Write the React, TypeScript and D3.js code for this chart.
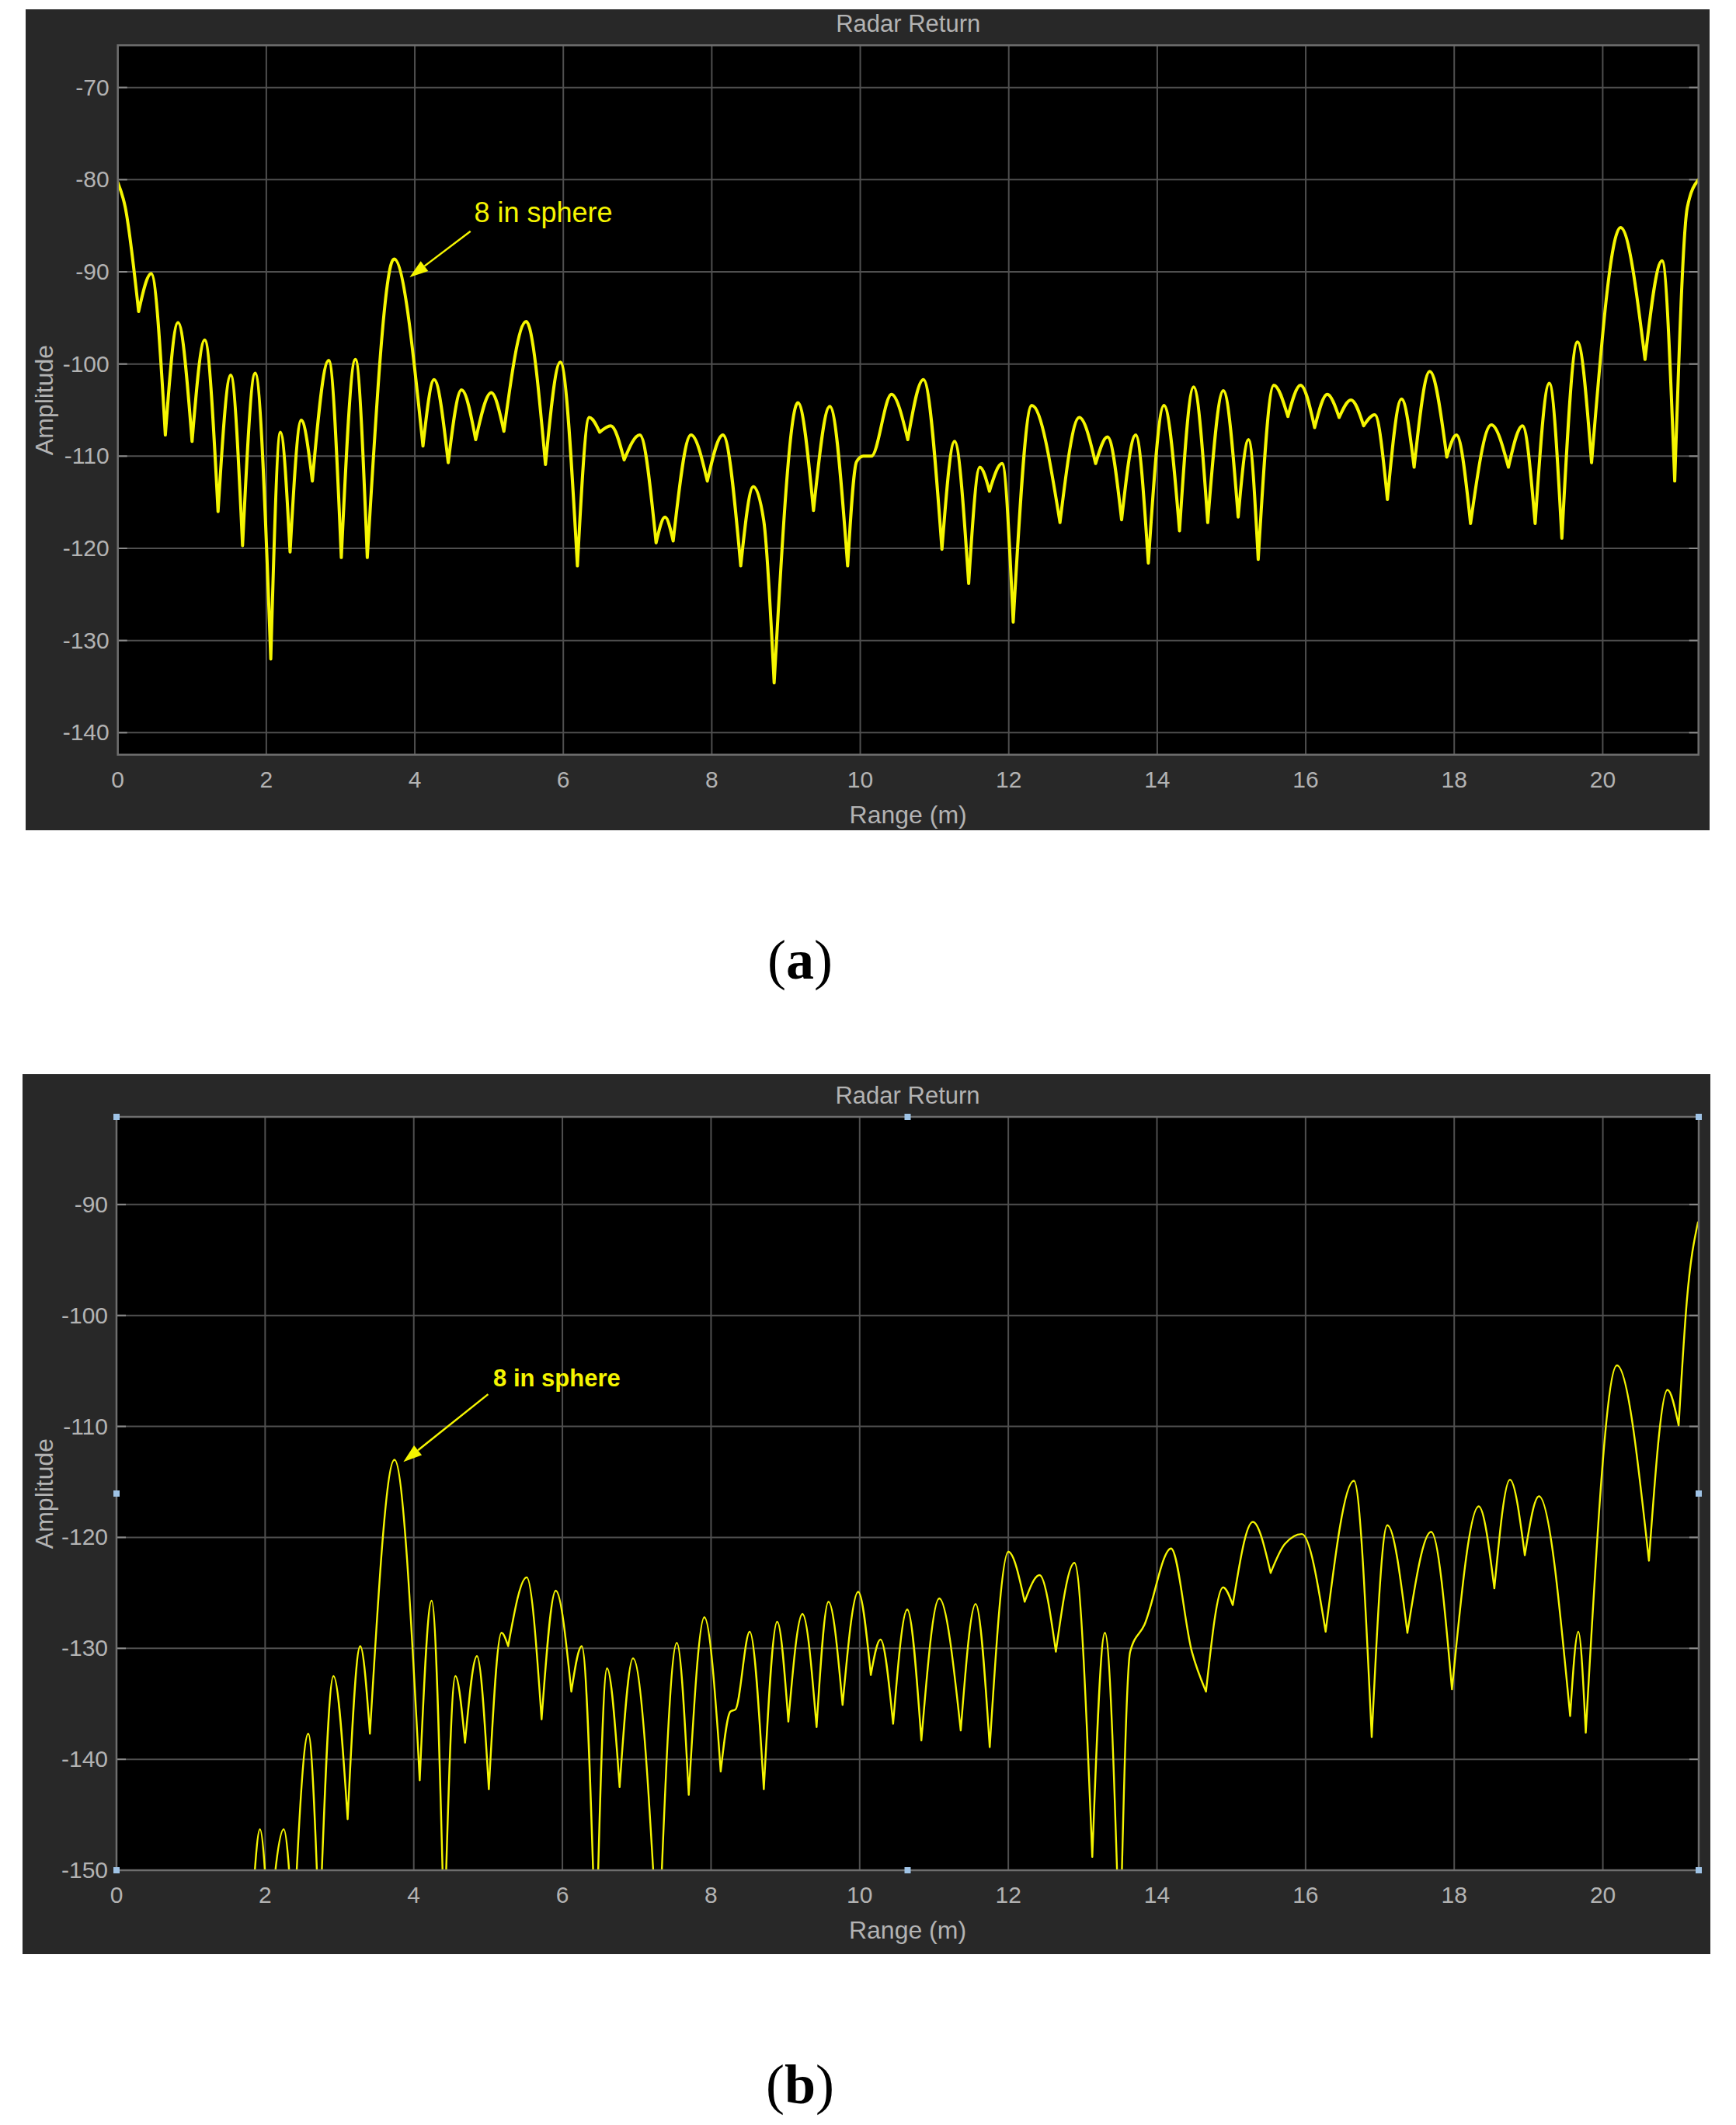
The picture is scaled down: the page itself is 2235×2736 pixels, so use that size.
import React, { useEffect, useRef } from 'react';
import * as d3 from 'd3';

// Range axis ticks (m), shared by both panels
const rangeTicks = [0, 2, 4, 6, 8, 10, 12, 14, 16, 18, 20];
const ampTicksA = [-70, -80, -90, -100, -110, -120, -130, -140];
const ampTicksB = [-90, -100, -110, -120, -130, -140, -150];

// Panel (a): [range m, amplitude dB] read at peaks / nulls
const returnA: [number, number][] = [
  [0, -80.3], [0.1, -83], [0.28, -94.3], [0.45, -90.2], [0.64, -107.7], [0.81, -95.5], [1.0, -108.4],
  [1.17, -97.4], [1.35, -116.0], [1.52, -101.2], [1.68, -119.7], [1.85, -101.0], [2.06, -132.0],
  [2.19, -107.4], [2.32, -120.4], [2.47, -106.1], [2.62, -112.7], [2.84, -99.6], [3.01, -121.0],
  [3.2, -99.5], [3.36, -121.0], [3.72, -88.6], [4.11, -108.9], [4.26, -101.7], [4.45, -110.7],
  [4.63, -102.8], [4.82, -108.2], [5.03, -103.1], [5.2, -107.3], [5.5, -95.4], [5.76, -110.9],
  [5.96, -99.8], [6.19, -121.9], [6.35, -105.8], [6.49, -107.4], [6.64, -106.7], [6.82, -110.4],
  [7.03, -107.7], [7.25, -119.4], [7.37, -116.6], [7.48, -119.2], [7.72, -107.7], [7.94, -112.7],
  [8.15, -107.7], [8.39, -121.9], [8.56, -113.3], [8.7, -117], [8.84, -134.6], [9.16, -104.2],
  [9.37, -115.9], [9.59, -104.6], [9.83, -121.9], [9.95, -110.6], [10.04, -110.0], [10.15, -110.0],
  [10.42, -103.3], [10.64, -108.2], [10.85, -101.7], [11.1, -120.1], [11.27, -108.4], [11.46, -123.8],
  [11.61, -111.2], [11.74, -113.8], [11.91, -110.8], [12.06, -128.0], [12.31, -104.5], [12.69, -117.2],
  [12.95, -105.8], [13.17, -110.8], [13.33, -107.9], [13.52, -116.9], [13.71, -107.7], [13.88, -121.6],
  [14.09, -104.5], [14.3, -118.1], [14.49, -102.5], [14.68, -117.2], [14.89, -102.9], [15.09, -116.6],
  [15.23, -108.2], [15.36, -121.2], [15.57, -102.3], [15.76, -105.7], [15.93, -102.3], [16.12, -106.9],
  [16.29, -103.3], [16.45, -105.8], [16.61, -103.9], [16.78, -106.7], [16.93, -105.5], [17.1, -114.7],
  [17.29, -103.8], [17.46, -111.2], [17.67, -100.8], [17.9, -110.1], [18.03, -107.7], [18.22, -117.3],
  [18.5, -106.6], [18.73, -111.2], [18.92, -106.7], [19.09, -117.3], [19.28, -102.1], [19.45, -118.9],
  [19.66, -97.6], [19.85, -110.7], [20.24, -85.2], [20.57, -99.5], [20.8, -88.8], [20.97, -112.7],
  [21.14, -83.0], [21.29, -80.0],
];

// Panel (b): [range m, amplitude dB]; values under -150 run off the bottom
const returnB: [number, number][] = [
  [1.84, -152], [1.93, -146.3], [2.05, -156], [2.25, -146.3], [2.38, -156], [2.58, -137.7], [2.73, -156],
  [2.92, -132.5], [3.11, -145.4], [3.28, -129.8], [3.41, -137.7], [3.74, -113.0], [4.08, -141.9],
  [4.24, -125.7], [4.41, -156], [4.56, -132.5], [4.69, -138.5], [4.85, -130.7], [5.01, -142.7],
  [5.18, -128.6], [5.27, -129.8], [5.52, -123.6], [5.72, -136.4], [5.91, -124.8], [6.12, -133.9],
  [6.26, -129.8], [6.45, -158], [6.6, -131.8], [6.77, -142.5], [6.95, -130.9], [7.29, -158],
  [7.54, -129.5], [7.7, -143.2], [7.91, -127.2], [8.13, -141.1], [8.26, -135.7], [8.33, -135.5],
  [8.52, -128.5], [8.71, -142.7], [8.89, -127.6], [9.04, -136.6], [9.23, -126.9], [9.42, -137.1],
  [9.58, -125.8], [9.77, -135.1], [9.98, -124.9], [10.15, -132.4], [10.28, -129.2], [10.45, -136.8],
  [10.64, -126.5], [10.83, -138.3], [11.07, -125.5], [11.36, -137.4], [11.56, -126.0], [11.75, -138.9],
  [12.0, -121.3], [12.22, -125.8], [12.42, -123.4], [12.64, -130.3], [12.89, -122.3], [13.13, -148.8],
  [13.3, -128.6], [13.5, -158], [13.64, -130.3], [13.83, -127.9], [14.19, -121.0], [14.47, -130.3],
  [14.66, -133.9], [14.89, -124.5], [15.02, -126.1], [15.29, -118.6], [15.53, -123.2], [15.72, -120.6],
  [15.95, -119.7], [16.27, -128.5], [16.65, -114.9], [16.89, -138.0], [17.1, -118.9], [17.37, -128.6],
  [17.69, -119.5], [17.97, -133.7], [18.33, -117.2], [18.54, -124.6], [18.75, -114.8], [18.95, -121.6],
  [19.14, -116.3], [19.56, -136.1], [19.67, -128.5], [19.77, -137.6], [20.19, -104.5], [20.62, -122.1],
  [20.87, -106.7], [21.02, -109.9], [21.13, -98.7], [21.28, -91.6],
];

const label = '8 in sphere';

interface Panel {
  data: [number, number][];
  yTicks: number[];
  yDomain: [number, number];
  box: { x: number; y: number; w: number; h: number };
  plot: { l: number; r: number; t: number; b: number };
  note: { tx: number; ty: number; from: [number, number]; to: [number, number]; bold: boolean; size: number };
  stroke: number;
  caption: string;
  captionY: number;
  handles: boolean;
}

const panels: Panel[] = [
  {
    data: returnA,
    yTicks: ampTicksA,
    yDomain: [-142.39, -65.42],
    box: { x: 33, y: 12, w: 2168, h: 1057 },
    plot: { l: 151.7, r: 2186.7, t: 58.3, b: 971.7 },
    note: { tx: 4.8, ty: -84.6, from: [4.75, -85.6], to: [3.93, -90.6], bold: false, size: 36 },
    stroke: 4,
    caption: 'a',
    captionY: 1260,
    handles: false,
  },
  {
    data: returnB,
    yTicks: ampTicksB,
    yDomain: [-150, -82.1],
    box: { x: 29, y: 1383, w: 2173, h: 1133 },
    plot: { l: 150, r: 2187, t: 1438, b: 2408 },
    note: { tx: 5.07, ty: -106.4, from: [5.0, -107.1], to: [3.86, -113.2], bold: true, size: 31 },
    stroke: 2.4,
    caption: 'b',
    captionY: 2708,
    handles: true,
  },
];

// split the trace at its nulls so each lobe is a smooth arch with a sharp null
function lobes(pts: [number, number][]) {
  const cuts = [0];
  for (let i = 1; i < pts.length - 1; i++) {
    if (pts[i][1] < pts[i - 1][1] && pts[i][1] < pts[i + 1][1]) cuts.push(i);
  }
  cuts.push(pts.length - 1);
  const segs: [number, number][][] = [];
  for (let k = 0; k < cuts.length - 1; k++) segs.push(pts.slice(cuts[k], cuts[k + 1] + 1));
  return segs;
}

const App: React.FC = () => {
  const svgRef = useRef<SVGSVGElement>(null);

  useEffect(() => {
    if (!svgRef.current) return;
    document.body.style.margin = '0';
    const svg = d3.select(svgRef.current);
    svg.selectAll('*').remove();

    const font = '"Liberation Sans", Arial, sans-serif';
    const textCol = '#b3b3b3';
    const yellow = '#f5f500';

    panels.forEach((p, pi) => {
      const x = d3.scaleLinear().domain([0, 21.29]).range([p.plot.l, p.plot.r]);
      const y = d3.scaleLinear().domain(p.yDomain).range([p.plot.b, p.plot.t]);
      const g = svg.append('g');

      g.append('rect')
        .attr('x', p.box.x).attr('y', p.box.y)
        .attr('width', p.box.w).attr('height', p.box.h)
        .attr('fill', '#282828');

      g.append('rect')
        .attr('x', p.plot.l).attr('y', p.plot.t)
        .attr('width', p.plot.r - p.plot.l).attr('height', p.plot.b - p.plot.t)
        .attr('fill', '#000');

      // grid
      g.selectAll('line.gx')
        .data(rangeTicks.filter(d => d > 0))
        .enter().append('line')
        .attr('x1', d => x(d)).attr('x2', d => x(d))
        .attr('y1', p.plot.t).attr('y2', p.plot.b)
        .attr('stroke', '#4f4f4f').attr('stroke-width', 2);
      g.selectAll('line.gy')
        .data(p.yTicks.filter(d => d > p.yDomain[0]))
        .enter().append('line')
        .attr('x1', p.plot.l).attr('x2', p.plot.r)
        .attr('y1', d => y(d)).attr('y2', d => y(d))
        .attr('stroke', '#4f4f4f').attr('stroke-width', 2);

      // tick marks
      g.selectAll('line.ty')
        .data(p.yTicks)
        .enter().append('line')
        .attr('x1', p.plot.l).attr('x2', p.plot.l + 12)
        .attr('y1', d => y(d)).attr('y2', d => y(d))
        .attr('stroke', '#8a8a8a').attr('stroke-width', 2);
      g.selectAll('line.ty2')
        .data(p.yTicks)
        .enter().append('line')
        .attr('x1', p.plot.r - 12).attr('x2', p.plot.r)
        .attr('y1', d => y(d)).attr('y2', d => y(d))
        .attr('stroke', '#8a8a8a').attr('stroke-width', 2);

      // trace
      const clipId = `clip${pi}`;
      g.append('clipPath').attr('id', clipId)
        .append('rect')
        .attr('x', p.plot.l).attr('y', p.plot.t)
        .attr('width', p.plot.r - p.plot.l).attr('height', p.plot.b - p.plot.t);

      const line = d3.line<[number, number]>()
        .x(d => x(d[0]))
        .y(d => y(d[1]))
        .curve(d3.curveMonotoneX);

      g.append('path')
        .attr('clip-path', `url(#${clipId})`)
        .attr('d', lobes(p.data).map(s => line(s)).join(''))
        .attr('fill', 'none')
        .attr('stroke', yellow)
        .attr('stroke-width', p.stroke)
        .attr('stroke-linejoin', 'round')
        .attr('stroke-linecap', 'round');

      // frame
      g.append('rect')
        .attr('x', p.plot.l).attr('y', p.plot.t)
        .attr('width', p.plot.r - p.plot.l).attr('height', p.plot.b - p.plot.t)
        .attr('fill', 'none')
        .attr('stroke', '#6e6e6e').attr('stroke-width', 2.5);

      if (p.handles) {
        const hx = [p.plot.l, (p.plot.l + p.plot.r) / 2, p.plot.r];
        const hy = [p.plot.t, (p.plot.t + p.plot.b) / 2, p.plot.b];
        const pts: [number, number][] = [];
        hx.forEach((a, i) => hy.forEach((b, j) => { if (!(i === 1 && j === 1)) pts.push([a, b]); }));
        g.selectAll('rect.h')
          .data(pts)
          .enter().append('rect')
          .attr('x', d => d[0] - 4).attr('y', d => d[1] - 4)
          .attr('width', 8).attr('height', 8)
          .attr('fill', '#9fc3e6');
      }

      // tick labels
      g.selectAll('text.xt')
        .data(rangeTicks)
        .enter().append('text')
        .attr('x', d => x(d))
        .attr('y', p.plot.b + 42)
        .attr('text-anchor', 'middle')
        .attr('font-family', font).attr('font-size', 30)
        .attr('fill', textCol)
        .text(d => String(d));
      g.selectAll('text.yt')
        .data(p.yTicks)
        .enter().append('text')
        .attr('x', p.plot.l - 11)
        .attr('y', d => y(d) + 10)
        .attr('text-anchor', 'end')
        .attr('font-family', font).attr('font-size', 30)
        .attr('fill', textCol)
        .text(d => String(d));

      g.append('text')
        .attr('x', (p.plot.l + p.plot.r) / 2)
        .attr('y', p.plot.t - 17)
        .attr('text-anchor', 'middle')
        .attr('font-family', font).attr('font-size', 31)
        .attr('fill', textCol)
        .text('Radar Return');
      g.append('text')
        .attr('x', (p.plot.l + p.plot.r) / 2)
        .attr('y', p.plot.b + 88)
        .attr('text-anchor', 'middle')
        .attr('font-family', font).attr('font-size', 32)
        .attr('fill', textCol)
        .text('Range (m)');
      g.append('text')
        .attr('transform', `translate(68,${(p.plot.t + p.plot.b) / 2}) rotate(-90)`)
        .attr('text-anchor', 'middle')
        .attr('font-family', font).attr('font-size', 32)
        .attr('fill', textCol)
        .text('Amplitude');

      // annotation arrow
      const [fx, fy] = [x(p.note.from[0]), y(p.note.from[1])];
      const [tx, ty] = [x(p.note.to[0]), y(p.note.to[1])];
      const ang = Math.atan2(ty - fy, tx - fx);
      const hl = 24, hw = 8;
      const bx = tx - hl * Math.cos(ang), by = ty - hl * Math.sin(ang);
      g.append('line')
        .attr('x1', fx).attr('y1', fy).attr('x2', bx).attr('y2', by)
        .attr('stroke', yellow).attr('stroke-width', 2.5);
      g.append('path')
        .attr('d', `M${tx},${ty}L${bx + hw * Math.sin(ang)},${by - hw * Math.cos(ang)}L${bx - hw * Math.sin(ang)},${by + hw * Math.cos(ang)}Z`)
        .attr('fill', yellow);
      g.append('text')
        .attr('x', x(p.note.tx)).attr('y', y(p.note.ty))
        .attr('font-family', font).attr('font-size', p.note.size)
        .attr('font-weight', p.note.bold ? 'bold' : 'normal')
        .attr('fill', yellow)
        .text(label);

      // caption
      const cap = svg.append('text')
        .attr('x', 1030).attr('y', p.captionY)
        .attr('text-anchor', 'middle')
        .attr('font-family', '"Liberation Serif", "Times New Roman", serif')
        .attr('font-size', 72)
        .attr('fill', '#000');
      cap.append('tspan').text('(');
      cap.append('tspan').attr('font-weight', 'bold').text(p.caption);
      cap.append('tspan').text(')');
    });
  }, []);

  return (
    <svg
      ref={svgRef}
      width={2235}
      height={2736}
      style={{ position: 'absolute', left: 0, top: 0, background: '#fff' }}
    />
  );
};

export default App;
